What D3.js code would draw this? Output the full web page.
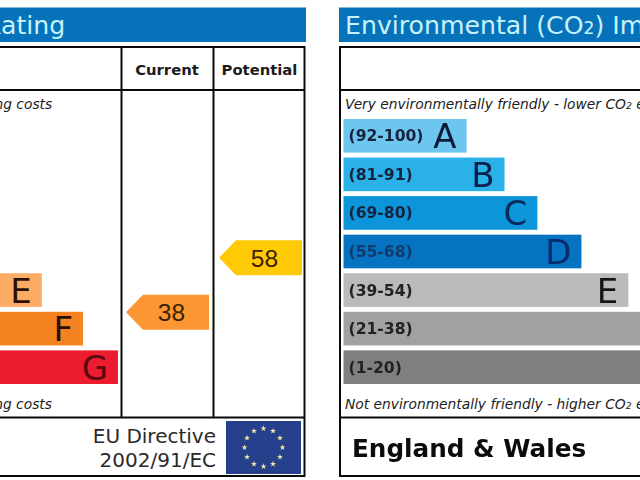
<!DOCTYPE html>
<html>
<head>
<meta charset="utf-8">
<script src="https://cdn.jsdelivr.net/npm/d3@7/dist/d3.min.js"></script>
<style>
  html, body { margin: 0; padding: 0; background: #fff; overflow: hidden; }
  svg { display: block; font-family: "DejaVu Sans", sans-serif; filter: blur(0.35px); }
</style>
</head>
<body>
<div id="chart"></div>
<script>
var bands = ["A", "B", "C", "D", "E", "F", "G"];
var ranges = ["(92-100)", "(81-91)", "(69-80)", "(55-68)", "(39-54)", "(21-38)", "(1-20)"];
var bar_lengths = [34.1, 44.6, 53.7, 65.9, 78.9, 90.3, 100];

var energy_colors = ["#00a651", "#50b848", "#b5d334", "#fff200", "#fbab64", "#f58220", "#ed1c2e"];
var env_colors = ["#6cc6ee", "#2ab2e8", "#0c95d8", "#0673c2", "#b9babc", "#a0a1a3", "#7e7f81"];
var env_range_fill = ["#16233f", "#16233f", "#16233f", "#123a6b", "#222", "#222", "#222"];
var energy_range_fill = ["#222", "#222", "#222", "#222", "#222", "#222", "#222"];
var env_letter_fill = ["#0b1a3a", "#0b1f4d", "#0b2a5c", "#0b2a6c", "#141414", "#141414", "#141414"];
var energy_letter_fill = ["#222", "#222", "#222", "#222", "#2a0f06", "#2a0f06", "#5a0a10"];

var current_rating = 38;
var potential_rating = 58;

var width = 640, height = 480;

var svg = d3.select("#chart").append("svg")
    .attr("width", width)
    .attr("height", height);

var x_bar = d3.scaleLinear().domain([0, 100]).range([0, 361]);
var y_band = d3.scaleBand().domain(bands).range([119, 384]).paddingInner(0.128).paddingOuter(0).align(0);
var y_rating = d3.scaleLinear().domain([1, 100]).range([413, 143.5]);

function add_text(g, x, y, size, str, opts) {
    opts = opts || {};
    var t = g.append("text")
        .attr("x", x)
        .attr("y", y)
        .attr("font-size", size)
        .attr("fill", opts.fill || "#1c1c1c")
        .attr("text-anchor", opts.anchor || "start")
        .attr("font-weight", opts.weight || "normal")
        .attr("font-style", opts.style || "normal");
    // CO2 has a small 2
    var parts = str.split("CO2");
    parts.forEach(function(p, i) {
        t.append("tspan").text(p);
        if (i < parts.length - 1) {
            t.append("tspan").text("CO");
            t.append("tspan").attr("font-size", size * 0.68).text("2");
        }
    });
    return t;
}

function draw_panel(offset, title, top_note, bottom_note, colors, letter_fill, range_fill, country) {
    var g = svg.append("g").attr("transform", "translate(" + offset + ",0)");

    // title bar
    g.append("rect").attr("x", 0).attr("y", 7.5).attr("width", 553.5).attr("height", 34.5).attr("fill", "#0672ba");
    add_text(g, 6, 34, 25.2, title, {fill: "#c8f2fa"});

    // frame
    var stroke = "#0a0a0a";
    g.append("rect").attr("x", 1).attr("y", 47).attr("width", 551).attr("height", 429)
        .attr("fill", "#fff").attr("stroke", stroke).attr("stroke-width", 2);
    [90, 417.5].forEach(function(ly) {
        g.append("line").attr("x1", 1).attr("x2", 552).attr("y1", ly).attr("y2", ly).attr("stroke", stroke).attr("stroke-width", 2);
    });
    [369, 461].forEach(function(cx) {
        g.append("line").attr("x1", cx).attr("x2", cx).attr("y1", 47).attr("y2", 417.5).attr("stroke", stroke).attr("stroke-width", 2);
    });

    add_text(g, 414.5, 75, 14.8, "Current", {weight: "bold", anchor: "middle"});
    add_text(g, 507, 75, 14.8, "Potential", {weight: "bold", anchor: "middle"});

    add_text(g, 6, 109, 13.8, top_note, {style: "italic"});
    add_text(g, 6, 409, 13.8, bottom_note, {style: "italic"});

    // bars
    var bars = g.append("g").attr("transform", "translate(4.5,0)");
    bars.selectAll("rect")
        .data(bands).enter()
        .append("rect")
            .attr("x", 0)
            .attr("y", function(d) { return y_band(d); })
            .attr("width", function(d, i) { return x_bar(bar_lengths[i]); })
            .attr("height", y_band.bandwidth())
            .attr("fill", function(d, i) { return colors[i]; });

    bars.selectAll("text.range")
        .data(ranges).enter()
        .append("text")
            .attr("class", "range")
            .attr("x", 5)
            .attr("y", function(d, i) { return y_band(bands[i]) + y_band.bandwidth() / 2 + 5.5; })
            .attr("font-size", 15.6)
            .attr("font-weight", "bold")
            .attr("fill", function(d, i) { return range_fill[i]; })
            .text(function(d) { return d; });

    bars.selectAll("text.letter")
        .data(bands).enter()
        .append("text")
            .attr("class", "letter")
            .attr("x", function(d, i) { return x_bar(bar_lengths[i]) - 10; })
            .attr("y", function(d) { return y_band(d) + y_band.bandwidth() / 2 + 12.5; })
            .attr("text-anchor", "end")
            .attr("font-size", 34)
            .attr("fill", function(d, i) { return letter_fill[i]; })
            .text(function(d) { return d; });

    add_text(g, 13, 457, 24.7, country, {weight: "bold", fill: "#0c0c0c"});
    add_text(g, 463.5, 443, 20, "EU Directive", {anchor: "end", fill: "#2a2a2a"});
    add_text(g, 463.5, 467, 20, "2002/91/EC", {anchor: "end", fill: "#2a2a2a"});

    // EU flag
    var flag = g.append("g").attr("transform", "translate(511,447.5)");
    flag.append("rect").attr("x", -37.5).attr("y", -26.5).attr("width", 75).attr("height", 53).attr("fill", "#27408b");
    flag.selectAll("path")
        .data(d3.range(12)).enter()
        .append("path")
            .attr("d", d3.symbol().type(d3.symbolStar).size(11))
            .attr("fill", "#eee9a8")
            .attr("transform", function(d) {
                var a = d / 12 * 2 * Math.PI;
                return "translate(" + (19 * Math.sin(a)) + "," + (-19 * Math.cos(a)) + ")";
            });

    return g;
}

function draw_arrow(g, column_x, rating, fill) {
    var cy = y_rating(rating), h = 35, w = 83, tip = 17;
    var points = [[0, 0], [tip, -h / 2], [w, -h / 2], [w, h / 2], [tip, h / 2]];
    var a = g.append("g").attr("transform", "translate(" + column_x + "," + cy + ")");
    a.append("path").attr("d", d3.line()(points) + "Z").attr("fill", fill);
    a.append("text")
        .attr("x", 45.5)
        .attr("y", 8.8)
        .attr("text-anchor", "middle")
        .attr("font-family", "Liberation Sans")
        .attr("font-size", 24.5)
        .attr("fill", "#3a2200")
        .text(rating);
}

var energy = draw_panel(-247.5, "Energy Efficiency Rating",
    "Very energy efficient - lower running costs",
    "Not energy efficient - higher running costs",
    energy_colors, energy_letter_fill, energy_range_fill, "England & Wales");

draw_arrow(energy, 373.5, current_rating, "#fb9633");
draw_arrow(energy, 466.5, potential_rating, "#fdca05");

draw_panel(339, "Environmental (CO2) Impact (EI) Rating",
    "Very environmentally friendly - lower CO2 emissions",
    "Not environmentally friendly - higher CO2 emissions",
    env_colors, env_letter_fill, env_range_fill, "England & Wales");
</script>
</body>
</html>
